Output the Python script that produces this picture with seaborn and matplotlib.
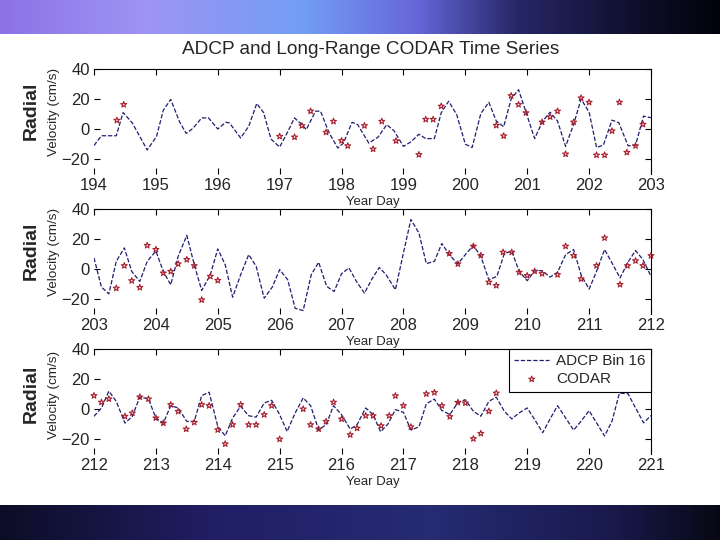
"""
ADCP vs long-range CODAR radial velocity, three panels of year days.
"""
import numpy as np
import matplotlib
matplotlib.use("Agg")
import matplotlib.pyplot as plt
import seaborn as sns

# ADCP Bin 16 (dashed line), panel 1
adcp1_day = [194.0, 194.12, 194.31, 194.36, 194.47, 194.62, 194.86, 195.01, 195.12, 195.24, 195.38, 195.49,
             195.6, 195.74, 195.85, 196.0, 196.13, 196.19, 196.37, 196.5, 196.63, 196.74, 196.86, 197.0,
             197.12, 197.24, 197.36, 197.43, 197.58, 197.66, 197.8, 197.94, 198.03, 198.17, 198.26, 198.44,
             198.59, 198.73, 198.85, 199.0, 199.12, 199.25, 199.36, 199.5, 199.61, 199.73, 199.86, 200.0,
             200.11, 200.25, 200.38, 200.5, 200.62, 200.74, 200.86, 200.98, 201.12, 201.25, 201.37, 201.49,
             201.62, 201.75, 201.87, 202.0, 202.12, 202.23, 202.37, 202.48, 202.63, 202.75, 202.88, 203.0]
adcp1_val = [-11, -4.5, -4.5, -4.5, 11, 4, -14, -5, 12.5, 19.7, 5, -3,
             0.5, 7.4, 7.4, 0, 4.5, 4, -6, 1.8, 17, 11, -6.7, -12,
             -2.7, 7.4, 2.9, -0.4, 11.9, 11.9, -2.7, -12.7, -9.4, 4.5, 2.9, -9.4,
             -5.4, 2.9, -1.3, -11.6, -8.6, -3.5, -6.4, -6.4, 10.8, 18.5, 9.7, -10.1,
             -12.3, 10.3, 17.8, 5.3, 1.5, 20, 26.2, 11.2, -6.4, 5.3, 11.2, 5.3,
             -11.6, 3.1, 20, 11.2, -12.3, -10.8, 5.9, 4.2, -11.2, -10.8, 8.6, 7.5]

# CODAR (stars), panel 1
codar1_day = [194.37, 194.48, 197.0, 197.24, 197.36, 197.5, 197.75, 197.87, 198.0, 198.1, 198.37, 198.51,
              198.65, 198.88, 199.25, 199.36, 199.48, 199.61, 200.5, 200.62, 200.74, 200.86, 200.98, 201.24,
              201.37, 201.49, 201.62, 201.75, 201.87, 202.0, 202.12, 202.25, 202.37, 202.49, 202.61, 202.75,
              202.87]
codar1_val = [5.8, 16.3, -4.9, -5.4, 2.2, 11.9, -2.2, 5.1, -7.8, -11.2, 2.2, -13.4,
              5.1, -7.9, -17.1, 6.4, 6.4, 15.2, 2.4, -4.6, 22.2, 16.3, 10.8, 4.6,
              8.1, 11.9, -16.7, 4.6, 20.7, 17.8, -17.4, -17.4, -1.3, 17.8, -15.6, -11.2,
              3.1]

# panel 2
adcp2_day = [203.0, 203.12, 203.24, 203.36, 203.49, 203.61, 203.74, 203.86,
             204.0, 204.12, 204.24, 204.36, 204.5, 204.62, 204.74, 204.88,
             205.0, 205.12, 205.24, 205.37, 205.5, 205.62, 205.75, 205.88,
             206.0, 206.13, 206.25, 206.38, 206.51, 206.63, 206.76, 206.88,
             207.0, 207.12, 207.24, 207.37, 207.49, 207.61, 207.72, 207.87,
             208.0, 208.12, 208.25, 208.37, 208.5, 208.62, 208.75, 208.88,
             209.0, 209.13, 209.25, 209.38, 209.51, 209.63, 209.75, 209.87,
             210.0, 210.12, 210.24, 210.37, 210.49, 210.62, 210.75, 210.87,
             211.0, 211.12, 211.25, 211.37, 211.5, 211.62, 211.75, 211.87, 212.0]
adcp2_val = [7.4, -12, -16.6, 5.1, 14.1, -1.6, -8.3, 5.1,
             11.9, -1.6, -10.5, 8.5, 22.4, 2.9, -14.3, -3.8,
             13.4, 2.9, -18.8, -3.8, 9.6, 1.8, -19.5, -12.1,
             -0.4, -7.2, -26.2, -27.7, -3.8, 4.5, -11.6, -15,
             -3.1, 0.7, -8.3, -16.1, -6.7, 1.0, -3.8, -13.8,
             10.7, 33, 24, 3.6, 5.1, 17, 9, 3.4,
             9.6, 15.7, 8.5, -7.2, -4.9, 10.3, 11.9, -1.6,
             -7.8, -1.1, -1.1, -5.4, -2.2, 9.6, 13, -3.8,
             -13.4, -1.6, 13, 4, -6, 4, 12.3, 6.3, -4.9]

codar2_day = [203.36, 203.49, 203.61, 203.74, 203.86,
              204.0, 204.12, 204.24, 204.36, 204.5, 204.62, 204.74, 204.88, 205.0,
              208.74, 208.88, 209.13, 209.25, 209.38, 209.5, 209.61, 209.75, 209.87,
              210.0, 210.12, 210.24, 210.49, 210.62, 210.75, 210.87,
              211.12, 211.25, 211.5, 211.62, 211.75, 211.87, 212.0]
codar2_val = [-12.8, 2.2, -7.8, -12.3, 15.7,
              13, -2.7, -1.6, 3.4, 6.3, 2.2, -20.6, -4.9, -7.6,
              10.3, 3.4, 15.2, 9, -8.8, -11, 11.2, 11.2, -2.2,
              -4.4, -1.5, -3.1, -3.8, 15.2, 8.9, -6.6,
              2.2, 20.7, -10.3, 2.2, 5.5, 2.2, 8.9]

# panel 3
adcp3_day = [212.0, 212.12, 212.24, 212.36, 212.5, 212.62, 212.74, 212.88,
             213.0, 213.12, 213.24, 213.36, 213.5, 213.62, 213.74, 213.86,
             214.0, 214.12, 214.24, 214.37, 214.5, 214.62, 214.75, 214.87,
             215.0, 215.12, 215.25, 215.38, 215.5, 215.63, 215.75, 215.87,
             216.0, 216.14, 216.25, 216.39, 216.51, 216.63, 216.75, 216.87,
             217.0, 217.12, 217.25, 217.37, 217.5, 217.62, 217.75, 217.88,
             218.0, 218.13, 218.25, 218.38, 218.5, 218.63, 218.75, 218.87,
             219.0, 219.12, 219.25, 219.37, 219.49, 219.62, 219.75, 219.87,
             220.0, 220.12, 220.25, 220.37, 220.49, 220.63, 220.75, 220.88, 221.0]
adcp3_val = [-4.9, 0.7, 11.9, 5.1, -9.4, -4.9, 8, 6.7,
             -6, -9.4, 2.2, 0.7, -8.3, -8.3, 8.9, 11.2,
             -11.6, -17.9, -6, 1.8, -4.5, -5.4, 4, 5.8,
             -3.8, -15, -2.7, 7.4, 2.2, -13.9, -10.5, 2.2,
             -3.8, -13.4, -10.5, 0.7, -3.8, -15.2, -10, -0.4,
             -2.2, -14, -11.9, 3.5, 6.6, -0.9, -3.7, 4.4,
             6.2, -1.5, -4.8, 5.1, 7.9, -1.5, -6.6, -2.6,
             0.7, -7, -15.8, -6.6, 2.2, -5.9, -14.1, -8.1,
             -1.1, -9.2, -18, -8.1, 10.6, 10.1, 0.7, -9.2, -4.4]

codar3_day = [212.0, 212.12, 212.24, 212.5, 212.62, 212.74, 212.88,
              213.0, 213.12, 213.24, 213.36, 213.49, 213.62, 213.74, 213.86,
              214.0, 214.12, 214.24, 214.37, 214.5, 214.62, 214.75, 214.87,
              215.0, 215.38, 215.5, 215.63, 215.75, 215.87,
              216.0, 216.14, 216.25, 216.39, 216.51, 216.64, 216.77, 216.87,
              217.0, 217.12, 217.37, 217.5, 217.62, 217.75, 217.88,
              218.0, 218.13, 218.25, 218.38, 218.5]
codar3_val = [8.9, 4.5, 6.7, -4.9, -2.7, 8, 6.7,
              -6, -9.4, 2.9, -1.6, -13.4, -8.9, 2.9, 2.2,
              -13.9, -23.3, -10.5, 2.9, -10.5, -10.5, -3.8, 2.2,
              -20.1, 0, -10.5, -13.4, -8.3, 4.5,
              -6.7, -17.2, -12.8, -4.5, -4.5, -11.2, -4.5, 8.8,
              2.2, -11.9, 10.1, 11, 2.2, -5.1, 4.4,
              4, -19.8, -16.3, -1.5, 10.6]

day_ranges = [(194, 203), (203, 212), (212, 221)]
y_ticks = [-20, 0, 20, 40]

LINE_COLOR = '#1e1e70'
STAR_COLOR = '#a8202e'

sns.set_style("white")
plt.rcParams['font.family'] = ['Liberation Sans', 'DejaVu Sans']

W, H = 720, 540
fig = plt.figure(figsize=(7.2, 5.4), dpi=100)
fig.patch.set_facecolor('white')

# slide background bands (top and bottom)
def band(y0, y1, stops):
    bax = fig.add_axes([0, 1 - y1 / H, 1, (y1 - y0) / H], zorder=-5)
    xs = np.linspace(0, 1, 300)
    pos = [s[0] for s in stops]
    rgb = np.stack([np.interp(xs, pos, [s[1][k] for s in stops]) for k in range(3)], axis=-1)
    bax.imshow(rgb[None, :, :], aspect='auto', extent=[0, 1, 0, 1])
    bax.set_axis_off()

band(0, 34, [(0.0, (0.55, 0.45, 0.90)), (0.2, (0.62, 0.58, 0.96)), (0.42, (0.45, 0.62, 0.96)),
             (0.58, (0.40, 0.40, 0.85)), (0.72, (0.15, 0.15, 0.40)), (0.9, (0.05, 0.05, 0.15)),
             (1.0, (0.01, 0.01, 0.05))])
band(505, 540, [(0.0, (0.05, 0.05, 0.15)), (0.3, (0.13, 0.12, 0.40)), (0.6, (0.15, 0.17, 0.45)),
                (0.85, (0.10, 0.10, 0.30)), (1.0, (0.03, 0.03, 0.08))])

panels = [
    (adcp1_day, adcp1_val, codar1_day, codar1_val),
    (adcp2_day, adcp2_val, codar2_day, codar2_val),
    (adcp3_day, adcp3_val, codar3_day, codar3_val),
]
tops = [69, 209, 349]
label_y = [112, 252, 395]

for i, (ad, av, cd, cv) in enumerate(panels):
    top = tops[i]
    ax = fig.add_axes([94 / W, 1 - (top + 105) / H, 557 / W, 105 / H])
    ax.set_facecolor('none')
    sns.lineplot(x=ad, y=av, ax=ax, color=LINE_COLOR, linewidth=0.9, linestyle=(0, (3.5, 1.5)),
                 sort=False, estimator=None, label='ADCP Bin 16')
    sns.scatterplot(x=cd, y=cv, ax=ax, marker='*', s=20, facecolor='none', edgecolor=STAR_COLOR,
                    linewidth=0.8, clip_on=False, label='CODAR', zorder=3)
    lo, hi = day_ranges[i]
    ax.set_xlim(lo, hi)
    ax.set_ylim(-30, 40)
    ax.set_xticks(range(lo, hi + 1))
    ax.set_yticks(y_ticks)
    ax.tick_params(axis='both', which='both', direction='in', length=4, width=0.8, color='black',
                   labelsize=12, pad=3, top=True, right=True, left=True, bottom=True,
                   labeltop=False, labelright=False)
    for side in ['left', 'bottom']:
        ax.spines[side].set_visible(False)
    for side in ['top', 'right']:
        ax.spines[side].set_visible(True)
        ax.spines[side].set_color('black')
        ax.spines[side].set_linewidth(0.8)
    ax.set_xlabel('Year Day', fontsize=9.5, labelpad=2)
    ax.set_ylabel('')
    if i == 2:
        leg = ax.legend(loc='upper right', fontsize=11, frameon=True, fancybox=False, framealpha=1,
                        edgecolor='black', borderaxespad=0, handlelength=2.3, handletextpad=0.45,
                        borderpad=0.35, labelspacing=0.25)
        leg.get_frame().set_linewidth(0.8)
    else:
        ax.get_legend().remove()

    fig.text(54 / W, 1 - label_y[i] / H, 'Velocity (cm/s)', rotation=90, ha='center', va='center',
             fontsize=9.7)
    fig.text(31 / W, 1 - (label_y[i] - 1) / H, 'Radial', rotation=90, ha='center', va='center',
             fontsize=14, fontweight='bold')

fig.text(371 / W, 1 - 49 / H, 'ADCP and Long-Range CODAR Time Series', ha='center', va='center',
         fontsize=13.7)

fig.savefig('out.png', dpi=100)
